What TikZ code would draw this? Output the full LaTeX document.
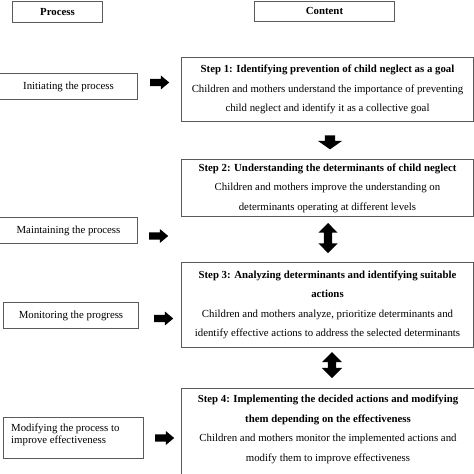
\documentclass[tikz,border=0pt]{standalone}
\usepackage{fontspec}
\setmainfont{Liberation Serif}
\usetikzlibrary{shapes.arrows}
\definecolor{boxgray}{HTML}{5A5A5A}
\begin{document}
\begin{tikzpicture}[x=1pt,y=-1pt,
  box/.style={draw=boxgray, line width=1pt, inner sep=0pt, anchor=north west,
    font=\fontsize{10.8}{12}\selectfont},
  stepbox/.style={box, minimum width=292pt, align=center,
    font=\fontsize{10.8}{19.5}\selectfont},
  steptext/.style={inner sep=0pt, align=center, font=\fontsize{10.8}{19.5}\selectfont},
  rarrow/.style={single arrow, fill=black, draw=none, inner sep=3.5pt,
    minimum height=19pt, single arrow head extend=3.2pt,
    single arrow tip angle=80},
  varrow/.style={double arrow, fill=black, draw=none, inner sep=4pt,
    double arrow head extend=5.5pt, double arrow tip angle=90,
    shape border rotate=90},
]
\useasboundingbox (0,0) rectangle (474,474);
\clip (0,0) rectangle (474,474);

% headers
\node[box, minimum width=90pt, minimum height=21.5pt, font=\fontsize{10.8}{12}\selectfont\bfseries] (proc) at (12,0.5) {Process};
\node[box, minimum width=140pt, minimum height=20.5pt, font=\fontsize{10.8}{12}\selectfont\bfseries] (cont) at (254,0.5) {Content};

% left boxes
\node[box, minimum width=138pt, minimum height=26pt] (ini) at (-1,73) {Initiating the process};
\node[box, minimum width=138pt, minimum height=26pt] (main) at (-1,217) {Maintaining the process};
\node[box, minimum width=135pt, minimum height=26pt] (mon) at (3,302) {Monitoring the progress};
\node[box, minimum width=140pt, minimum height=41pt] (mod) at (3,417) {};
\node[inner sep=0pt, anchor=west, align=left, font=\fontsize{10.8}{12}\selectfont] (modt) at (11,434.5)
  {Modifying the process to\\improve effectiveness};

% step boxes
\node[stepbox, minimum height=64pt] (s1) at (181,57)
  {\textbf{Step 1: Identifying prevention of child neglect as a goal}\\
   Children and mothers understand the importance of preventing\\
   child neglect and identify it as a collective goal};
\node[stepbox, minimum height=57pt] (s2) at (181,159)
  {\textbf{Step 2: Understanding the determinants of child neglect}\\
   Children and mothers improve the understanding on\\
   determinants operating at different levels};
\node[stepbox, minimum height=85pt] (s3) at (181,262)
  {\textbf{Step 3: Analyzing determinants and identifying suitable}\\
   \textbf{actions}\\
   Children and mothers analyze, prioritize determinants and\\
   identify effective actions to address the selected determinants};
\node[box, minimum width=310pt, minimum height=100pt] (s4) at (181,388) {};
\node[steptext] (s4t) at (328,429.5)
  {\textbf{Step 4: Implementing the decided actions and modifying}\\
   \textbf{them depending on the effectiveness}\\
   Children and mothers monitor the implemented actions and\\
   modify them to improve effectiveness};

% block arrows
\node[rarrow] (a1) at (157.5,82.5) {};
\node[rarrow] (a2) at (156.5,236) {};
\node[rarrow] (a3) at (161.5,318.5) {};
\node[rarrow] (a4) at (162.5,438) {};
\node[single arrow, fill=black, draw=none, inner sep=5pt, minimum height=12pt,
  single arrow head extend=7pt, single arrow tip angle=110,
  shape border rotate=270] (d1) at (330,140.5) {};
\node[varrow, minimum height=30pt] (dd1) at (328,238) {};
\node[varrow, minimum height=26pt, double arrow head extend=6pt] (dd2) at (332,365) {};
\end{tikzpicture}
\end{document}
